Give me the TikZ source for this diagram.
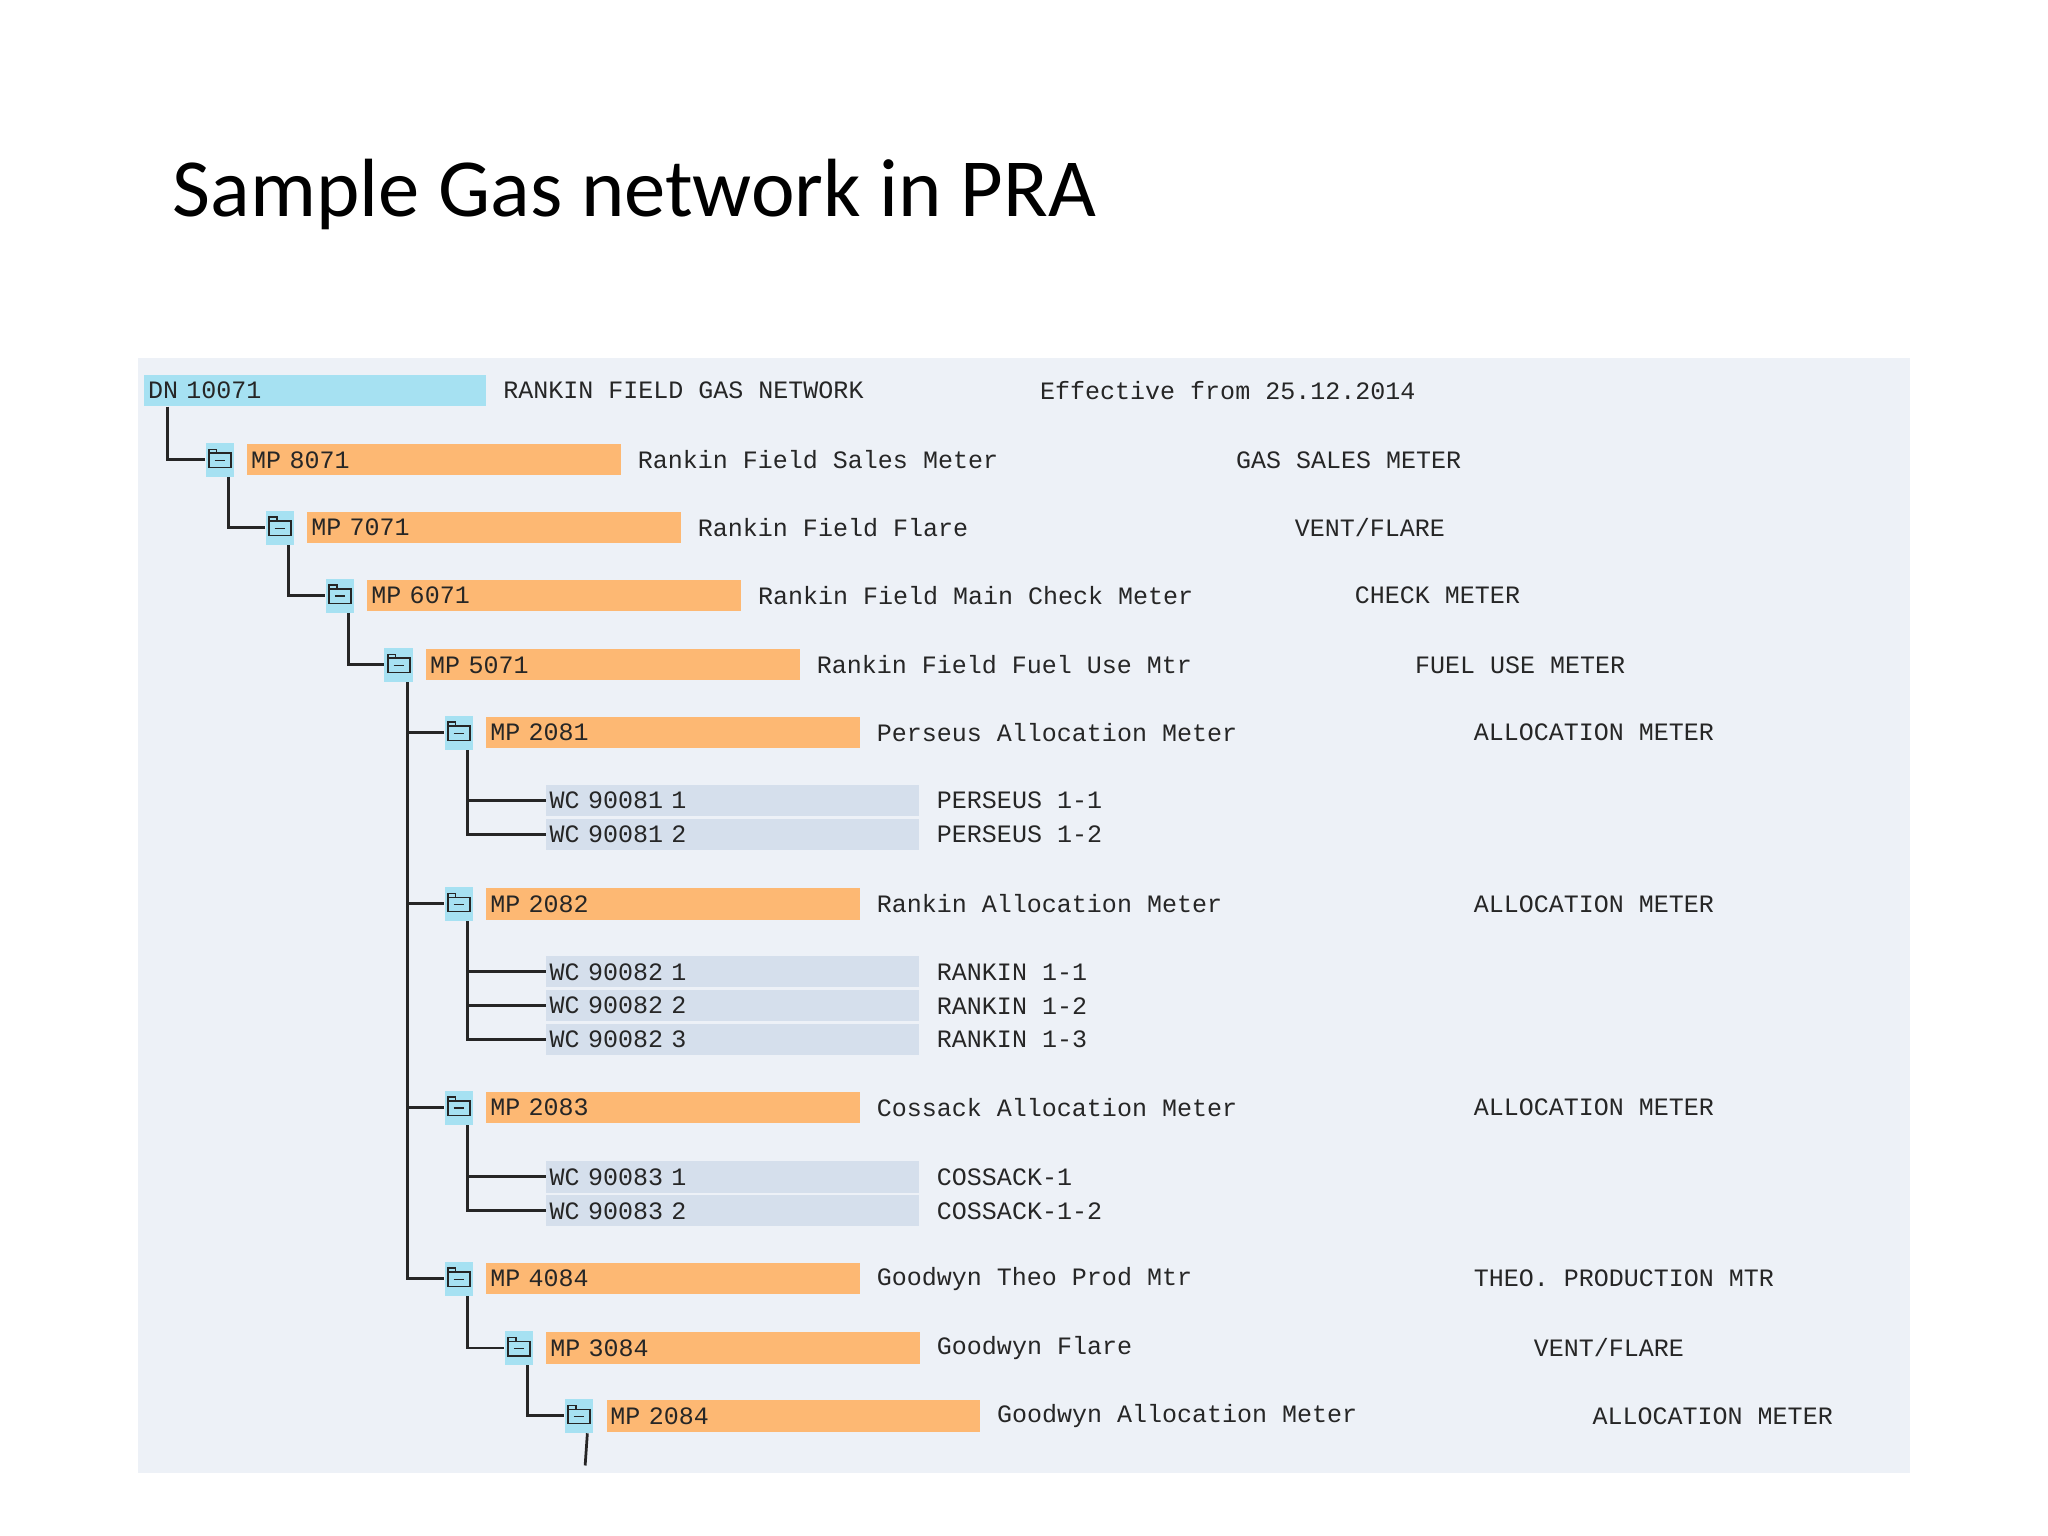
\documentclass[tikz,border=0pt]{standalone}
\usepackage{fontspec}
\setmainfont{Liberation Mono}
\newfontfamily\titlefont{Carlito}
\begin{document}
\begin{tikzpicture}[x=0.02cm,y=-0.02cm,
  every node/.style={inner sep=0pt,font=\fontsize{10.9}{12}\selectfont,text=black!85},
  bar/.style={anchor=west,minimum height=0.48cm,minimum width=5.72cm,text width=5.6cm,align=left,inner xsep=0.04cm},
  dn/.style={bar,fill=dnblue,minimum width=5.24cm,text width=5.12cm},
  mp/.style={bar,fill=mporange},
  wc/.style={bar,fill=wcgray,minimum width=5.7cm},
  ico/.style={anchor=west,fill=dnblue,minimum width=0.44cm,minimum height=0.52cm,
    path picture={\draw[line width=0.7pt,black!85]
      ([xshift=-0.17cm,yshift=-0.12cm]path picture bounding box.center) rectangle ([xshift=0.17cm,yshift=0.1cm]path picture bounding box.center)
      ([xshift=-0.17cm,yshift=0.1cm]path picture bounding box.center) -- ++(0,0.06cm) -- ++(0.12cm,0) -- ++(0,-0.06cm)
      ([xshift=-0.08cm,yshift=-0.01cm]path picture bounding box.center) -- ++(0.16cm,0);}},
  txt/.style={anchor=west},
  tree/.style={line width=1.2pt,black!85}]
\definecolor{dnblue}{HTML}{A6E1F2}
\definecolor{mporange}{HTML}{FDB873}
\definecolor{wcgray}{HTML}{D5DFEC}
\definecolor{panel}{HTML}{EDF1F7}
\useasboundingbox (0,0) rectangle (1568,1176);
\fill[panel] (106,274) rectangle (1462,1128);
\node[anchor=base west,font=\titlefont\fontsize{36}{40}\selectfont,text=black] (title) at (132,166) {Sample Gas network in PRA};
% DN
\node[dn] (dn) at (110,299) {DN 10071};
\node[txt] (dnd) at (385,299) {RANKIN FIELD GAS NETWORK};
\node[txt] (dnt) at (796,299) {Effective from 25.12.2014};
% MP rows: name, iconx, y, label, desc, type, typex
\foreach \n/\ix/\y/\lab/\desc/\typ/\tx in {
 8071/157/352/MP 8071/Rankin Field Sales Meter/GAS SALES METER/946,
 7071/203/404/MP 7071/Rankin Field Flare/VENT\slash FLARE/991,
 6071/249/456/MP 6071/Rankin Field Main Check Meter/CHECK METER/1037,
 5071/294/509/MP 5071/Rankin Field Fuel Use Mtr/FUEL USE METER/1083,
 2081/340/561/MP 2081/Perseus Allocation Meter/ALLOCATION METER/1128,
 2082/340/692/MP 2082/Rankin Allocation Meter/ALLOCATION METER/1128,
 2083/340/848/MP 2083/Cossack Allocation Meter/ALLOCATION METER/1128,
 4084/340/979/MP 4084/Goodwyn Theo Prod Mtr/THEO. PRODUCTION MTR/1128,
 3084/386/1032/MP 3084/Goodwyn Flare/VENT\slash FLARE/1174,
 2084/432/1084/MP 2084/Goodwyn Allocation Meter/ALLOCATION METER/1219}{
 \node[ico] (i\n) at (\ix,\y) {};
 \node[mp] (b\n) at (\ix+32,\y) {\lab};
 \node[txt] (d\n) at (\ix+32+299,\y) {\desc};
 \node[txt] (t\n) at (\tx,\y) {\typ};
}
% WC rows
\foreach \n/\y/\lab/\desc in {
 a/613/WC 90081 1/PERSEUS 1-1, b/639/WC 90081 2/PERSEUS 1-2,
 c/744/WC 90082 1/RANKIN 1-1, d/770/WC 90082 2/RANKIN 1-2, e/796/WC 90082 3/RANKIN 1-3,
 f/901/WC 90083 1/COSSACK-1, g/927/WC 90083 2/COSSACK-1-2}{
 \node[wc] (w\n) at (418,\y) {\lab};
 \node[txt] (wd\n) at (717,\y) {\desc};
}
% tree connectors
\draw[tree] ([xshift=0.36cm]dn.south west) |- (i8071.west);
\foreach \p/\c in {8071/7071,7071/6071,6071/5071,5071/2081,5071/2082,5071/2083,5071/4084,4084/3084,3084/2084}
  \draw[tree] ([xshift=-0.1cm]i\p.south east) |- (i\c.west);
\foreach \p/\c in {2081/a,2081/b,2082/c,2082/d,2082/e,2083/f,2083/g}
  \draw[tree] ([xshift=-0.1cm]i\p.south east) |- (w\c.west);
\coordinate (end) at (448,1122);
\draw[tree] ([xshift=-0.1cm]i2084.south east) -- (end);
\end{tikzpicture}
\end{document}
